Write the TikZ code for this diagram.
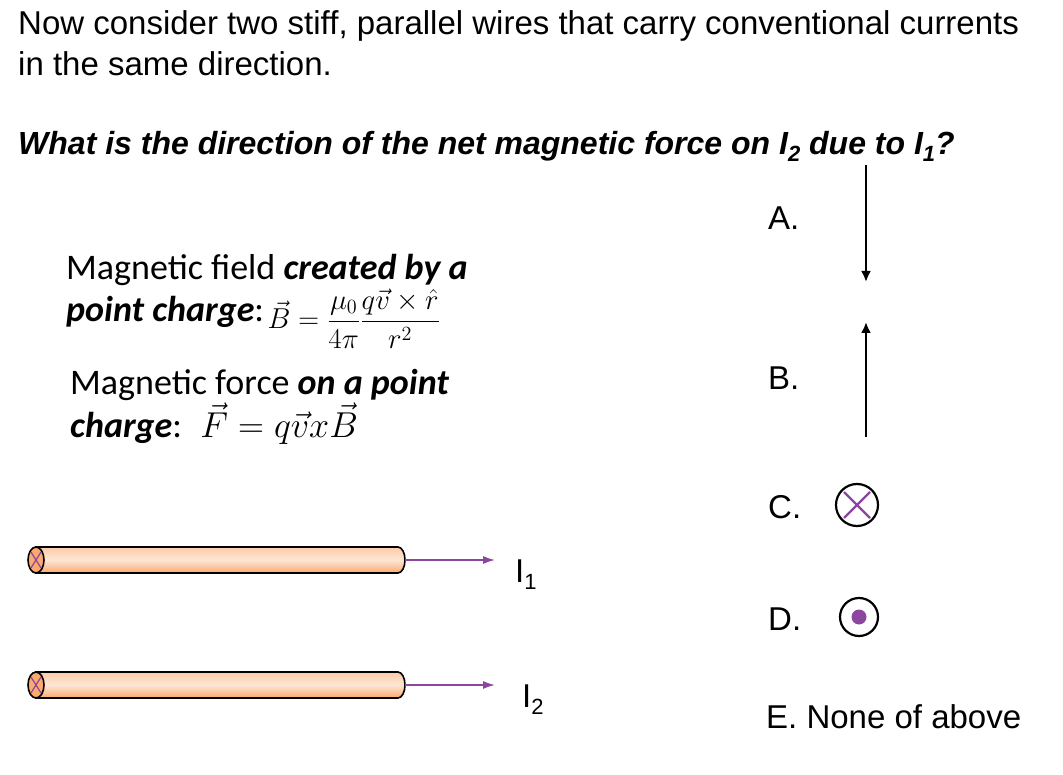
\RequirePackage{fix-cm}
\documentclass[tikz,border=0pt]{standalone}
\usepackage{amsmath}
\usepackage{fontspec}
\setmainfont{Liberation Sans}
\newfontfamily\calib{Carlito}
\usetikzlibrary{arrows.meta}
\definecolor{wire}{RGB}{250,170,110}
\definecolor{purp}{RGB}{140,70,160}
\newcommand{\subn}[1]{\raisebox{-7pt}{\fontsize{22}{24}\selectfont #1}}
\begin{document}
\begin{tikzpicture}[x=1pt,y=-1pt,
  txt/.style={anchor=base west,inner sep=0pt},
  ctxt/.style={anchor=base west,inner sep=0pt,font=\calib\fontsize{36}{40}\selectfont},
  atxt/.style={anchor=base west,inner sep=0pt,font=\fontsize{33}{36}\selectfont},
  blk/.style={line width=2.5pt,-{Latex[length=11pt,width=10pt]}},
  cur/.style={purp,line width=1.5pt,-{Latex[length=12pt,width=8pt]}}]
\useasboundingbox (0,0) rectangle (1063,775);
\node[atxt] (t1) at (18,35) {Now consider two stiff, parallel wires that carry conventional currents};
\node[atxt] (t2) at (18,76) {in the same direction.};
\node[atxt,font=\bfseries\itshape\fontsize{32}{36}\selectfont] (q) at (18,155) {What is the direction of the net magnetic force on I\subn{2} due to I\subn{1}?};
\node[ctxt] (m1) at (66,280) {Magnetic field \textbf{\itshape created by a}};
\node[ctxt] (m2) at (66,322) {\textbf{\itshape point charge}:};
\node[txt,scale=1.2,font=\fontsize{24}{28}\selectfont] (f1) at ([xshift=3pt,yshift=-7pt]m2.base east) {$\vec B=\dfrac{\mu_0}{4\pi}\dfrac{q\vec v\times\hat r}{r^2}$};
\node[ctxt] (m3) at (70,395) {Magnetic force \textbf{\itshape on a point}};
\node[ctxt] (m4) at (70,438) {\textbf{\itshape charge}:};
\node[txt,font=\fontsize{36}{40}\selectfont] (f2) at ([xshift=18pt]m4.base east) {$\vec F=q\vec v x\vec B$};
% answers
\node[atxt] (A) at (768,230) {A.};
\coordinate (a1) at (866,165); \coordinate (a2) at (866,282);
\draw[blk] (a1) -- (a2);
\node[atxt] (B) at (768,390) {B.};
\coordinate (b1) at (866,437); \coordinate (b2) at (866,322);
\draw[blk] (b1) -- (b2);
\node[atxt] (C) at (768,518) {C.};
\node[draw,circle,line width=2.2pt,minimum size=42pt,inner sep=0pt] (cc) at (857,505) {};
\draw[purp,line width=2.2pt] ([shift={(-13,-13)}]cc.center) -- ([shift={(13,13)}]cc.center)
  ([shift={(13,-13)}]cc.center) -- ([shift={(-13,13)}]cc.center);
\node[atxt] (D) at (768,630) {D.};
\node[draw,circle,line width=2.2pt,minimum size=38pt,inner sep=0pt] (dc) at (859,617) {};
\fill[purp] (dc.center) circle (7.5);
\node[atxt] (E) at (766,728) {E. None of above};
% wires
\foreach \y/\n/\xx in {560/1/515,685/2/522}{
  \shade[top color=wire!60,bottom color=wire,middle color=wire!30,draw=black,line width=1.6pt]
    (36,\y-13) -- (398,\y-13) arc[start angle=-90,end angle=90,x radius=7,y radius=13] -- (36,\y+13) -- cycle;
  \draw[fill=wire,line width=1.6pt] (36,\y) ellipse[x radius=8,y radius=13];
  \draw[purp,line width=1.2pt] (31,\y-8) -- (41,\y+8) (41,\y-8) -- (31,\y+8);
  \coordinate (w\n) at (405,\y);
  \coordinate (e\n) at (495,\y);
  \draw[cur] (w\n) -- (e\n);
  \node[atxt] (I\n) at (\xx,\y+22) {I\subn{\n}};
}
\end{tikzpicture}
\end{document}
